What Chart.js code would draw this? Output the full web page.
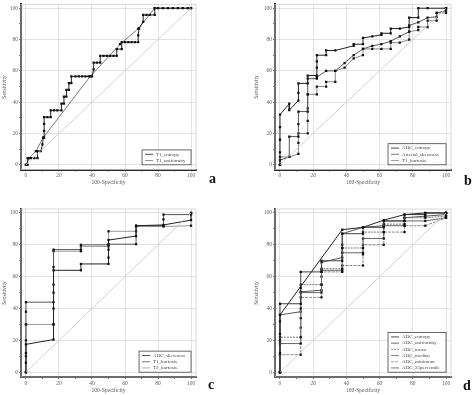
<!DOCTYPE html>
<html lang="en">
<head>
<meta charset="UTF-8">
<title>ROC curves</title>
<script src="https://cdn.jsdelivr.net/npm/chart.js@4.4.0/dist/chart.umd.min.js"></script>
<style>
  body { margin: 0; background: #fff; width: 474px; height: 395px; position: relative; overflow: hidden; }
  canvas { position: absolute; }
  .tag { position: absolute; font: bold 14px "Liberation Serif", serif; color: #111; }
</style>
</head>
<body>
<canvas id="pa" width="237" height="187" style="left:0;top:0"></canvas>
<canvas id="pb" width="222" height="187" style="left:252px;top:0"></canvas>
<canvas id="pc" width="237" height="198" style="left:0;top:197px"></canvas>
<canvas id="pd" width="222" height="198" style="left:252px;top:197px"></canvas>
<div class="tag" style="left:209px;top:171px">a</div>
<div class="tag" style="left:464px;top:173px">b</div>
<div class="tag" style="left:208px;top:377px">c</div>
<div class="tag" style="left:463px;top:378px">d</div>

<script>
// [100-specificity, sensitivity] pairs
const tickValues = [0, 10, 20, 30, 40, 50, 60, 70, 80, 90, 100];
const diagonal = [[0, 0], [100, 100]];

// panel a
const aNames = ['T1_entropy', 'T1_uniformity'];
const aEntropy = [[0,0],[1,0],[1,4.3],[3,4.3],[5,4.3],[7,4.3],[7,8.7],[9,8.7],[10,13],[10.5,17.4],[11,17.4],[11,21.7],[11,26.1],[11,30.4],[13,30.4],[15,30.4],[15,34.8],[17,34.8],[19,34.8],[21.5,34.8],[21.5,39.1],[23,39.1],[23,43.5],[24.5,43.5],[24.5,47.8],[26,47.8],[26,52.2],[27.5,52.2],[27.5,56.5],[30,56.5],[32,56.5],[34,56.5],[36,56.5],[38,56.5],[40,56.5],[41,60.9],[41,65.2],[43,65.2],[45,65.2],[45,69.6],[47,69.6],[49,69.6],[51,69.6],[53,69.6],[55,69.6],[55,73.9],[58,73.9],[58,78.3],[60,78.3],[62,78.3],[64,78.3],[66,78.3],[68,78.3],[68,82.6],[68.5,87],[71,91.3],[71,95.7],[73,95.7],[75,95.7],[78,95.7],[78,100],[80,100],[83,100],[86,100],[89,100],[92,100],[95,100],[98,100],[100,100]];
const aUniformity = [[0,0],[2,4.3],[6,8.7],[10.5,17.4],[39,56.5],[57,77],[68,87],[78,100],[100,100]];

// panel b
const bNames = ['ADC_entropy', 'Arterial_skewness', 'T1_kurtosis'];
const bEntropy = [[0,0],[0,8],[0,16],[0,24],[0,32],[5.6,39],[5.6,35],[11.1,41],[11.1,46],[11.1,52],[16.7,52],[16.7,57],[22.2,57],[22.2,62],[22.2,66],[22.2,70],[27.8,70],[27.8,73],[33.3,73],[44.4,76],[44.4,77],[50,77],[50,81],[55.6,82],[61.1,83],[61.1,84],[66.7,84],[66.7,87],[72.2,87],[77.8,88],[77.8,94],[83.3,94],[83.3,100],[88.9,100],[100,100]];
const bSkewness = [[0,0],[0,3],[5.6,5],[5.6,18],[11.1,18],[11.1,26],[11.1,34],[16.7,34],[16.7,45],[16.7,55],[22.2,55],[22.2,56],[27.8,60],[33.3,60],[38.9,65],[44.4,70],[50,74],[55.6,76],[61.1,77],[66.7,79],[72.2,82],[77.8,85],[77.8,89],[83.3,91],[88.9,94],[94.4,94.5],[94.4,97],[100,98.5],[100,100]];
const bKurtosis = [[0,0],[0,5],[5.6,5],[11.1,7],[11.1,14],[11.1,20],[16.7,20],[16.7,28],[16.7,36],[16.7,45],[22.2,45],[22.2,50],[27.8,50],[27.8,53],[33.3,53],[33.3,60],[38.9,62],[44.4,68],[50,70],[50,74],[55.6,74],[61.1,74],[66.7,74],[66.7,78],[72.2,78],[77.8,80],[77.8,85],[83.3,86],[83.3,88],[88.9,88],[88.9,92],[94.4,92],[94.4,97],[100,97],[100,100]];

// panel c
const cNames = ['ADC_skewness', 'T1_kurtosis', 'T2_kurtosis'];
const cSkewness = [[0,0],[0,6],[0,12],[0,17.5],[16.7,20.5],[16.7,30],[16.7,40],[16.7,50],[16.7,64],[33.3,64],[33.3,68],[50,68],[50,72],[50,77],[50,83],[66.7,85.5],[66.7,92],[83.3,92.5],[100,95.5],[100,100]];
const cT1Kurtosis = [[0,0],[0,10],[0,20],[0,30],[0,38],[0,44],[16.7,44],[16.7,55],[16.7,66],[16.7,77],[33.3,77],[33.3,80],[50,80],[50,80.4],[66.7,80.4],[66.7,92],[83.3,92],[83.3,96],[83.3,99],[100,99],[100,100]];
const cT2Kurtosis = [[0,0],[0,30],[16.7,30],[16.7,76],[33.3,76],[33.3,79],[50,79],[50,88.5],[66.7,88.5],[66.7,91.5],[83.3,91.5],[100,92],[100,100]];

// panel d
const dNames = ['ADC_entropy', 'ADC_uniformity', 'ADC_mean', 'ADC_median', 'ADC_minimum', 'ADC_25percentile'];
const dEntropy = [[0,0],[0,12],[0,24],[0,36],[37.5,89.5],[50,91],[62.5,95.5],[75,99],[87.5,100],[100,100]];
const dUniformity = [[0,0],[0,20],[0,32],[0,43],[12.5,43],[12.5,53],[12.5,63],[25,63],[25,70],[37.5,70],[37.5,78],[37.5,87],[50,87],[50,91],[62.5,91],[62.5,95],[75,95],[75,99],[87.5,99],[87.5,100],[100,100]];
const dMean = [[0,0],[0,22],[12.5,22],[12.5,40],[12.5,55],[25,55],[25,65],[37.5,65],[37.5,78],[50,78],[50,88],[62.5,88],[62.5,93],[75,93],[75,97],[87.5,97],[100,98],[100,100]];
const dMedian = [[0,0],[0,18],[12.5,18],[12.5,34],[12.5,50],[25,50],[25,64],[37.5,64],[37.5,75],[50,75],[50,84],[62.5,84],[62.5,92],[75,92],[75,95],[87.5,95],[100,97],[100,100]];
const dMinimum = [[0,0],[0,11],[12.5,11],[12.5,28],[12.5,47],[25,47],[25,55],[25,63],[37.5,63],[37.5,67],[50,67],[50,74],[50,80],[62.5,80],[62.5,88],[75,88],[75,92],[87.5,92],[100,97],[100,100]];
const d25pct = [[0,0],[0,36],[12.5,38],[12.5,50.5],[25,51.5],[25,60],[25,69],[37.5,72],[37.5,80],[37.5,87],[50,91],[62.5,92],[62.5,95],[75,95],[75,97],[87.5,98],[100,99],[100,100]];

const family = '"Liberation Serif", serif';

const frame = {
  id: 'frame',
  beforeDatasetsDraw(chart) {
    const { ctx, chartArea: a } = chart;
    ctx.save();
    ctx.strokeStyle = '#cfcfcf';
    ctx.lineWidth = 0.8;
    ctx.strokeRect(a.left, a.top, a.right - a.left, a.bottom - a.top);
    ctx.restore();
  }
};

const boxLegend = {
  id: 'boxLegend',
  afterDraw(chart, args, opts) {
    const { ctx } = chart;
    const x = chart.scales.x, y = chart.scales.y;
    const ds = chart.data.datasets.filter(d => d.label);
    const rowH = 6.2;
    const r = x.getPixelForValue(100), b = y.getPixelForValue(0);
    const w = opts.width, h = ds.length * rowH + 2.5;
    const l = r - w, t = b - h;
    ctx.save();
    ctx.fillStyle = '#fff';
    ctx.fillRect(l, t, w, h);
    ctx.strokeStyle = '#444';
    ctx.lineWidth = 0.8;
    ctx.strokeRect(l, t, w, h);
    ctx.font = '5px ' + family;
    ctx.textBaseline = 'middle';
    ds.forEach((d, i) => {
      const yy = t + 1.3 + rowH * (i + 0.5);
      ctx.strokeStyle = d.borderColor;
      ctx.setLineDash(d.borderDash || []);
      ctx.beginPath();
      ctx.moveTo(l + 3, yy);
      ctx.lineTo(l + 11, yy);
      ctx.stroke();
      ctx.setLineDash([]);
      ctx.fillStyle = '#444';
      ctx.fillText(d.label, l + 14, yy);
    });
    ctx.restore();
  }
};

function axis(title, min, max, size) {
  return {
    type: 'linear',
    min: min,
    max: max,
    afterBuildTicks: ax => { ax.ticks = tickValues.map(v => ({ value: v })); },
    grid: {
      color: c => (c.tick && c.tick.value % 20 === 0) ? '#dcdcdc' : 'rgba(0,0,0,0)',
      lineWidth: 0.8,
      tickColor: '#555',
      tickLength: 2
    },
    border: { color: '#2a2a2a', width: 2 },
    ticks: {
      autoSkip: false,
      maxRotation: 0,
      padding: 1,
      color: '#666',
      font: { size: 5.5, family: family },
      callback: v => (v % 20 === 0 ? v : '')
    },
    title: {
      display: true,
      text: title,
      color: '#555',
      font: { size: 5.5, family: family },
      padding: { top: 1, bottom: 1 }
    },
    afterFit: s => { if (size.w) s.width = size.w; if (size.h) s.height = size.h; }
  };
}

const greys = {
  a: ['#222', '#777'],
  b: ['#222', '#555', '#888'],
  c: ['#222', '#555', '#999'],
  d: ['#222', '#444', '#777', '#666', '#888', '#555']
};
const dashes = {
  d: [[], [], [2, 1], [], [3, 1], []]
};

function panel(id, key, sets, names, cfg) {
  const datasets = [{
    label: '',
    data: diagonal.map(p => ({ x: p[0], y: p[1] })),
    borderColor: '#c8c8c8',
    borderWidth: 0.8,
    pointRadius: 0
  }];
  sets.forEach((s, i) => {
    datasets.push({
      label: names[i],
      data: s.map(p => ({ x: p[0], y: p[1] })),
      borderColor: greys[key][i],
      borderDash: (dashes[key] || [])[i] || [],
      borderWidth: 1,
      pointRadius: 1.6,
      pointStyle: 'rect',
      pointBackgroundColor: '#111',
      pointBorderWidth: 0,
      tension: 0
    });
  });
  new Chart(document.getElementById(id), {
    type: 'line',
    data: { datasets: datasets },
    plugins: [frame, boxLegend],
    options: {
      responsive: false,
      animation: false,
      devicePixelRatio: 1,
      layout: { padding: { top: cfg.top, right: cfg.right, left: 0, bottom: 0 } },
      plugins: {
        legend: { display: false },
        tooltip: { enabled: false },
        boxLegend: { width: cfg.legendW }
      },
      scales: {
        x: axis('100-Specificity', -3, 103, { h: cfg.xh }),
        y: axis('Sensitivity', -3, 102.5, { w: cfg.yw })
      }
    }
  });
}

panel('pa', 'a', [aEntropy, aUniformity], aNames, { top: 2, right: 41, xh: 17.5, yw: 21, legendW: 49 });
panel('pb', 'b', [bEntropy, bSkewness, bKurtosis], bNames, { top: 2, right: 23, xh: 17.5, yw: 23, legendW: 58 });
panel('pc', 'c', [cSkewness, cT1Kurtosis, cT2Kurtosis], cNames, { top: 12, right: 41, xh: 18, yw: 21, legendW: 52 });
panel('pd', 'd', [dEntropy, dUniformity, dMean, dMedian, dMinimum, d25pct], dNames, { top: 12, right: 23, xh: 18, yw: 23, legendW: 58 });
</script>
</body>
</html>
